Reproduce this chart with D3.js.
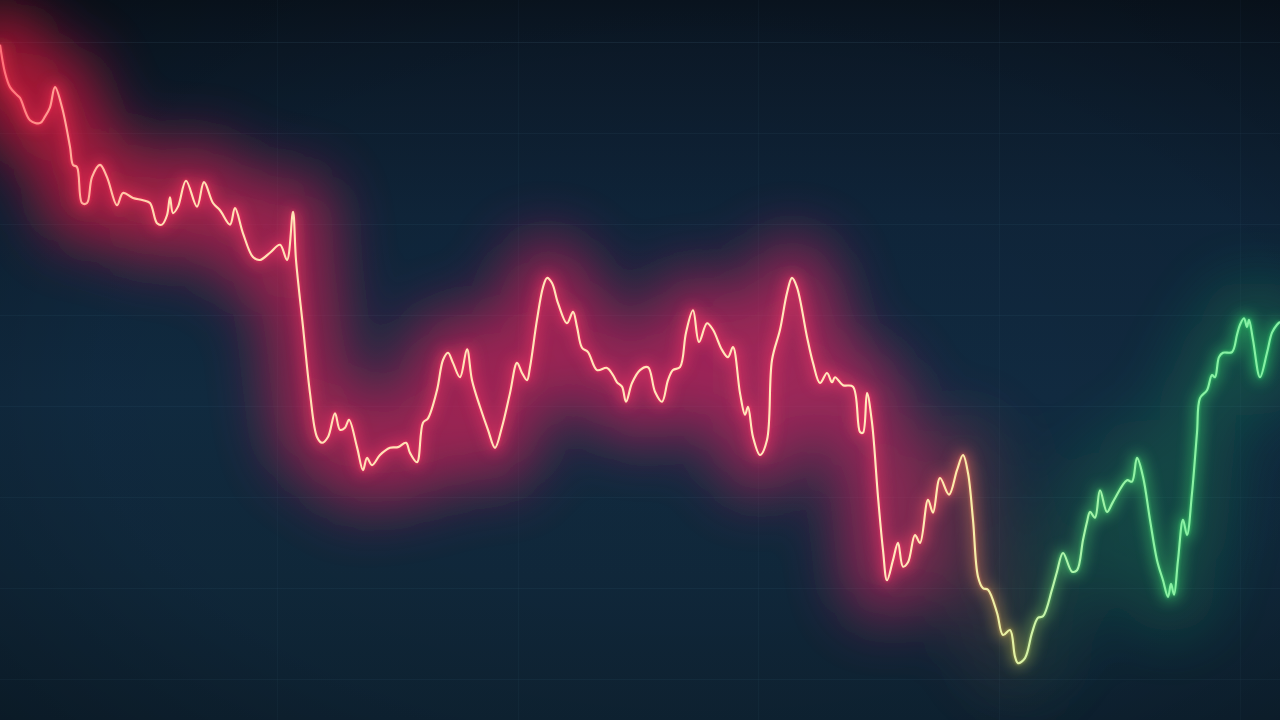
<!DOCTYPE html>
<html>
<head>
<meta charset="utf-8">
<script src="https://cdn.jsdelivr.net/npm/d3@7"></script>
<style>
html,body{margin:0;padding:0;background:#0f2336;overflow:hidden;}
svg{display:block;}
</style>
</head>
<body>
<svg id="chart" width="1280" height="720"></svg>
<script>
// time index (arbitrary units)
const times = [
0,0.5,1,1.7,2,3,4,4.5,5,5.5,
6.2,7,7.3,7.7,8.2,8.7,9.2,10,10.7,11.7,
12.3,13.3,14.3,15,15.7,16.2,16.7,17,17.3,17.8,
18.6,19.7,20.4,21.3,22,23,23.5,24.3,25.3,26,
27,28,28.7,29.3,29.6,30.3,31,31.7,32.2,32.8,
33.5,34,34.5,34.9,35.7,36.3,36.7,37.2,38,39,
39.8,40.6,41,41.7,42.3,42.8,43.7,44.3,44.8,45.3,
46,46.7,47.2,48,48.8,49.5,50.2,51,51.7,52.2,
52.7,53,53.7,54.3,54.7,55.2,55.8,56.7,57.3,57.7,
58.2,58.8,59.7,60.7,61.3,61.7,62.2,62.6,63.2,64,
64.8,65.5,66.2,66.8,67.3,68,68.6,69.3,69.9,70.7,
71.3,72.2,72.8,73.3,74,74.5,74.8,75.3,76,76.7,
77.2,78,78.7,79.2,79.7,80.7,81.3,82,82.7,83.2,
83.5,84.3,85.3,86,86.3,86.7,87.2,87.8,88.3,88.7,
89.3,89.8,90.3,90.8,91.5,92,92.8,93.3,94,94.9,
95.7,96.3,96.8,97.3,97.8,98.3,98.8,99.7,100.3,101,
101.5,101.8,102.5,103.2,103.8,104.3,105.2,105.7,106.3,107.2,
107.7,108.3,108.7,109,109.5,110,110.7,111.3,112.7,113.2,
113.7,114.3,115,115.7,116.3,116.8,117.1,117.4,117.8,118.3,
118.7,119.2,119.7,120,120.7,121.2,121.5,121.9,122.3,123.2,
123.7,124,124.4,124.7,124.9,125.3,126,126.7,127.2,127.7,
128
];
// price values
const prices = [
93.8,89.9,87.9,86.8,86.4,83.3,82.9,83.8,85.1,87.9,
85.1,79.6,77.1,76.8,71.8,71.8,75.4,77.1,75.4,71.5,
73.2,72.5,72.2,71.8,69.0,68.8,70.1,72.6,70.4,71.3,
74.9,71.3,74.7,71.8,70.8,68.8,71.1,67.6,64.3,63.9,
64.9,66.0,63.9,70.6,63.9,54.6,45.4,39.3,38.5,39.3,
42.6,40.3,40.6,41.7,37.9,34.7,36.4,35.4,36.8,37.8,
37.9,38.5,37.1,35.8,41.3,41.9,45.8,50.0,51.0,49.6,
47.6,51.5,47.2,43.5,40.3,37.8,40.7,45.4,49.6,48.2,
47.2,49.0,55.6,60.1,61.4,60.7,57.9,55.1,56.7,54.6,
51.7,51.1,48.6,48.9,47.9,46.9,46.3,44.2,46.8,48.6,
49.0,45.6,44.2,47.2,48.6,49.0,53.8,56.9,52.5,55.1,
54.2,51.4,50.4,51.8,45.4,42.4,43.5,39.3,36.8,38.9,
50.0,54.2,59.3,61.4,60.1,53.2,49.6,46.8,48.2,46.9,
47.6,46.5,46.3,40.0,39.9,45.4,41.3,31.0,23.6,19.4,
22.2,24.6,21.3,21.9,25.7,24.6,30.6,28.8,33.6,31.3,
34.7,36.8,34.3,27.8,19.9,18.3,18.1,14.9,11.8,12.5,
8.8,7.9,8.6,12.1,14.2,14.4,18.1,20.6,23.2,20.6,
20.8,25.0,27.5,28.9,28.1,31.9,28.9,30.3,33.3,33.1,
36.4,33.8,27.8,22.2,19.4,17.1,18.9,17.4,22.2,27.8,
25.7,31.5,39.9,44.7,45.8,47.9,47.6,50.4,51.0,51.1,
53.5,54.9,55.8,54.6,55.6,52.8,47.6,51.0,53.8,54.9,
55.3
];
// faint grid positions (in data units)
const gridPrices = [94.2, 81.5, 68.9, 56.3, 43.6, 31.0, 18.3, 5.7];
const gridTimes = [27.7, 51.8, 75.8, 99.9, 124];

const W = 1280, H = 720;
const data = times.map((t, i) => ({t, p: prices[i]}));

const x = d3.scaleLinear().domain([0, 128]).range([0, W]);
const y = d3.scaleLinear().domain([0, 100]).range([H, 0]);

const svg = d3.select("#chart");
const defs = svg.append("defs");

// background
const bg = defs.append("linearGradient").attr("id", "bg")
  .attr("x1", 0).attr("y1", 0).attr("x2", 0).attr("y2", 1);
[[0, "#0a1521"], [0.07, "#0c1a29"], [0.3, "#0f253a"], [0.55, "#112b41"], [0.8, "#10283b"], [1, "#0e2232"]]
  .forEach(([o, c]) => bg.append("stop").attr("offset", o).attr("stop-color", c));

const vig = defs.append("radialGradient").attr("id", "vig")
  .attr("cx", "55%").attr("cy", "55%").attr("r", "80%");
[[0, "rgba(0,0,0,0)"], [0.6, "rgba(0,0,0,0.04)"], [1, "rgba(0,0,0,0.3)"]]
  .forEach(([o, c]) => vig.append("stop").attr("offset", o).attr("stop-color", c));

function hGrad(id, stops) {
  const g = defs.append("linearGradient").attr("id", id)
    .attr("gradientUnits", "userSpaceOnUse")
    .attr("x1", 0).attr("y1", 0).attr("x2", W).attr("y2", 0);
  stops.forEach(([o, c, a]) => g.append("stop").attr("offset", o)
    .attr("stop-color", c).attr("stop-opacity", a === undefined ? 1 : a));
}
hGrad("haze", [[0, "#f0183c", 0.9], [0.2, "#e8205a", 0.8], [0.68, "#ea2468", 0.82], [0.74, "#c82a5a", 0.55], [0.79, "#706040", 0.15], [0.84, "#1aa060", 0.28], [1, "#20b060", 0.32]]);
hGrad("glow", [[0, "#ff3050"], [0.2, "#ff3868"], [0.7, "#ff3a6a"], [0.75, "#f06a60"], [0.79, "#c0b050"], [0.83, "#50d070"], [1, "#30e070"]]);
hGrad("core", [[0, "#ff7078"], [0.05, "#ffa898"], [0.13, "#ffe0b4"], [0.7, "#ffe8bc"], [0.75, "#fcecaa"], [0.79, "#e6f2a4"], [0.83, "#b0f5ac"], [0.9, "#8cf2a4"], [1, "#84f0a4"]]);

function blur(id, sd) {
  defs.append("filter").attr("id", id)
    .attr("filterUnits", "userSpaceOnUse")
    .attr("x", -200).attr("y", -300).attr("width", W + 400).attr("height", H + 600)
    .append("feGaussianBlur").attr("stdDeviation", sd);
}
blur("bHaze", 30);
blur("bMid", 7);
blur("bGlow", 1.5);

svg.append("rect").attr("width", W).attr("height", H).attr("fill", "url(#bg)");

// grid
const grid = svg.append("g").attr("stroke", "#6a9ab8").attr("stroke-width", 1);
grid.selectAll("line.h").data(gridPrices).join("line").attr("class", "h")
  .attr("x1", 0).attr("x2", W)
  .attr("y1", d => Math.round(y(d)) + 0.5).attr("y2", d => Math.round(y(d)) + 0.5)
  .attr("stroke-opacity", (d, i) => i === 0 ? 0.12 : 0.07);
grid.selectAll("line.v").data(gridTimes).join("line").attr("class", "v")
  .attr("y1", 0).attr("y2", H)
  .attr("x1", d => Math.round(x(d)) + 0.5).attr("x2", d => Math.round(x(d)) + 0.5)
  .attr("stroke-opacity", 0.05);

svg.append("rect").attr("width", W).attr("height", H).attr("fill", "url(#vig)");

const line = d3.line()
  .x(d => x(d.t))
  .y(d => y(d.p))
  .curve(d3.curveCatmullRom.alpha(0.5));
const dStr = line(data);

svg.append("path").attr("d", dStr).attr("fill", "none")
  .attr("stroke", "url(#haze)").attr("stroke-width", 76)
  .attr("stroke-linejoin", "round").attr("stroke-linecap", "round")
  .attr("filter", "url(#bHaze)").attr("opacity", 0.8);
svg.append("path").attr("d", dStr).attr("fill", "none")
  .attr("stroke", "url(#glow)").attr("stroke-width", 9)
  .attr("stroke-linejoin", "round")
  .attr("filter", "url(#bMid)").attr("opacity", 0.55);
svg.append("path").attr("d", dStr).attr("fill", "none")
  .attr("stroke", "url(#glow)").attr("stroke-width", 3)
  .attr("stroke-linejoin", "round")
  .attr("filter", "url(#bGlow)").attr("opacity", 0.65);
svg.append("path").attr("d", dStr).attr("fill", "none")
  .attr("stroke", "url(#core)").attr("stroke-width", 2.1)
  .attr("stroke-linejoin", "round");
</script>
</body>
</html>
